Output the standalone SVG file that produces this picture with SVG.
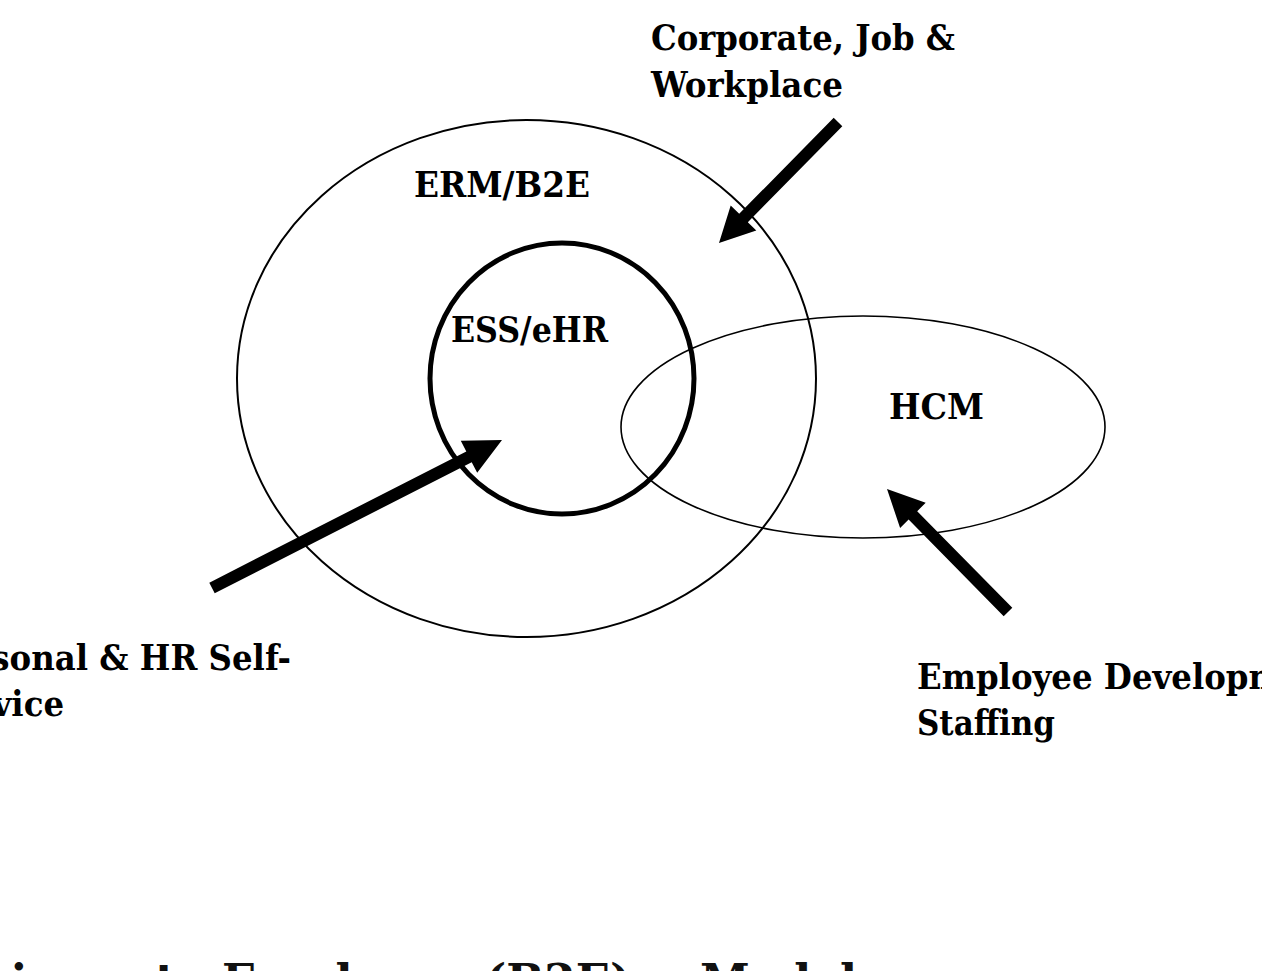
<svg xmlns="http://www.w3.org/2000/svg" width="1262" height="971" viewBox="0 0 1262 971">
<style>
.lbl{font-family:'DejaVu Serif Condensed','DejaVu Serif','Liberation Serif',serif;font-stretch:condensed;font-weight:bold;font-size:36px;fill:#000}
.ttl{font-family:'DejaVu Serif','Liberation Serif',serif;font-weight:bold;font-size:45px;fill:#111}
.arrow{fill:#000;stroke:none}
</style>
<rect width="1262" height="971" fill="#fff"/>
<g id="erm">
<ellipse cx="526.5" cy="378.5" rx="289.5" ry="258.5" fill="none" stroke="#000" stroke-width="2"/>
<text class="lbl" x="414" y="197" textLength="176" lengthAdjust="spacingAndGlyphs">ERM/B2E</text>
</g>
<g id="ess">
<ellipse cx="562" cy="378.5" rx="132" ry="135.5" fill="none" stroke="#000" stroke-width="5"/>
<text class="lbl" x="451" y="342" textLength="157" lengthAdjust="spacingAndGlyphs">ESS/eHR</text>
</g>
<g id="hcm">
<ellipse cx="863" cy="427" rx="242" ry="111" fill="none" stroke="#000" stroke-width="1.6"/>
<text class="lbl" x="889" y="419" textLength="95" lengthAdjust="spacingAndGlyphs">HCM</text>
</g>
<g id="corporate">
<text class="lbl" x="651" y="50" textLength="304" lengthAdjust="spacingAndGlyphs">Corporate, Job &amp;</text>
<text class="lbl" x="651" y="97" textLength="192" lengthAdjust="spacingAndGlyphs">Workplace</text>
</g>
<g id="personal">
<text class="lbl" x="291" y="670" text-anchor="end">Personal &amp; HR Self-</text>
<text class="lbl" x="64" y="716" text-anchor="end">Service</text>
</g>
<g id="employee">
<text class="lbl" x="917" y="689">Employee Development</text>
<text class="lbl" x="917" y="735" textLength="138" lengthAdjust="spacingAndGlyphs">Staffing</text>
</g>
<g id="connectors">
<polygon class="arrow" points="842.3,126.2 747.8,222.2 756.3,230.6 719,243 730.7,205.4 739.2,213.8 833.7,117.8"/>
<polygon class="arrow" points="214.7,593.3 471.7,462.2 477.2,472.8 502,440 460.8,440.8 466.3,451.4 209.3,582.7"/>
<polygon class="arrow" points="1012.3,607.8 917.2,511.2 925.7,502.8 887,489 900.1,528 908.6,519.6 1003.7,616.2"/>
</g>
<g id="title">
<text class="ttl" y="996"><tspan x="206" text-anchor="end">Business to</tspan><tspan x="222">Employee</tspan><tspan x="485">(B2E)</tspan><tspan x="700">Model</tspan></text>
</g>
</svg>
